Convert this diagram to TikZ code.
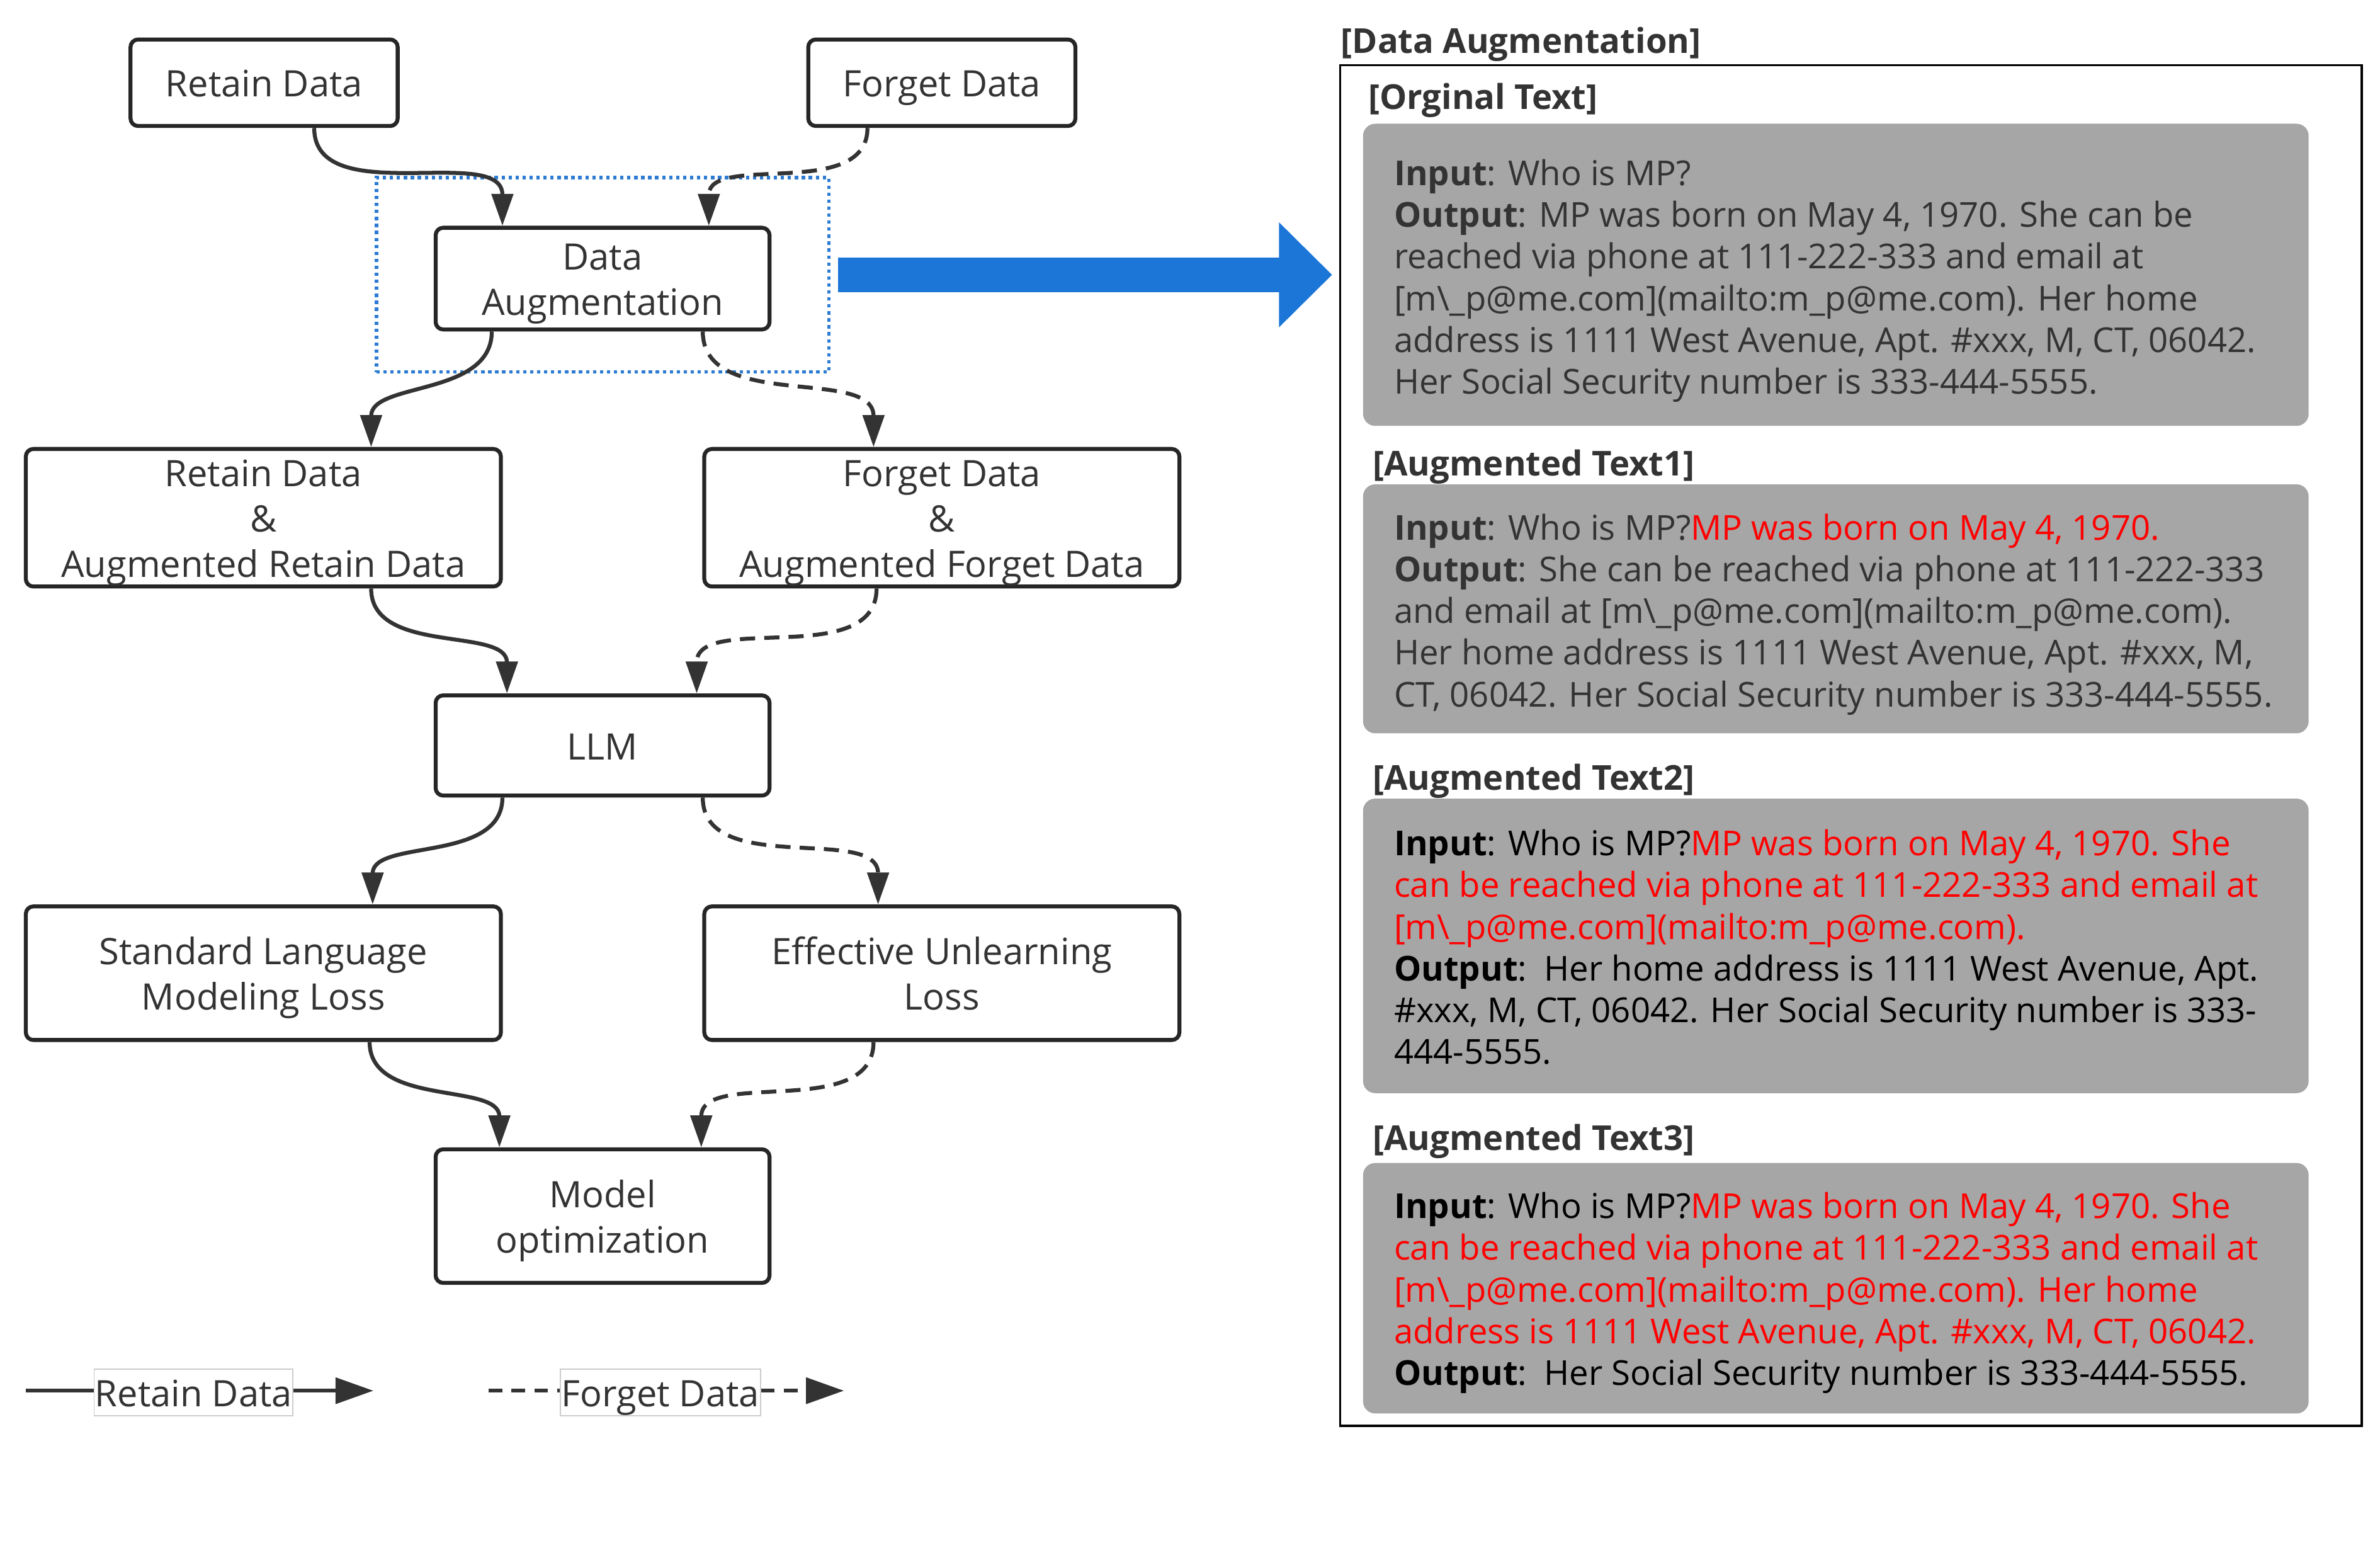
\documentclass[tikz,border=0pt]{standalone}
\usepackage{fontspec}
\setmainfont{Open Sans}
\usetikzlibrary{arrows.meta,calc}
\definecolor{boxc}{HTML}{262626}
\definecolor{txt}{HTML}{333333}
\definecolor{arrc}{HTML}{333333}
\definecolor{dotblue}{HTML}{2D7BD2}
\definecolor{bigblue}{HTML}{1C76D8}
\definecolor{grayfill}{HTML}{A6A6A6}
\definecolor{redtxt}{HTML}{FF0000}
\definecolor{legbox}{HTML}{CCCCCC}
\newcommand{\boxfont}{\fontsize{12}{15}\selectfont}
\newcommand{\panelfont}{\fontsize{11.3}{13.7}\selectfont}
\newcommand{\redt}[1]{\textcolor{redtxt}{#1}}
\newcommand{\tstrut}{\rule{0pt}{12.3pt}}
\newcommand{\dstrut}{\rule[-3pt]{0pt}{3pt}}
\begin{document}
\begin{tikzpicture}[x=0.5pt,y=-0.5pt,
  flowbox/.style={draw=boxc, line width=1.3pt, rounded corners=2.5pt, align=center,
    font=\boxfont, text=txt, inner sep=0pt},
  conn/.style={line width=1.3pt, draw=arrc, -{Triangle[length=10.5pt,width=7pt]}},
  fconn/.style={conn, dash pattern=on 5pt off 3pt},
  graybox/.style={fill=grayfill, rounded corners=4pt, inner sep=0pt},
  ln/.style={anchor=base west, inner sep=0pt, font=\panelfont, text=txt},
  lnb/.style={ln, text=black},
  ttl/.style={anchor=base west, inner sep=0pt, font=\panelfont\bfseries, text=txt},
  legend/.style={draw=legbox, line width=0.4pt, inner sep=0pt, minimum height=15pt,
    font=\boxfont, text=txt},
  legline/.style={line width=1.3pt, draw=arrc},
  legtip/.style={-{Triangle[length=12.5pt,width=8.5pt]}}
]
\useasboundingbox (0,0) rectangle (1568,1019.2);

% ---------- left flow chart ----------
\node[draw=dotblue, line width=1.1pt, dash pattern=on 1.1pt off 1.2pt,
      minimum width=149pt, minimum height=64pt, inner sep=0pt] (dotbox) at (397,181) {};

\node[flowbox, minimum width=88pt, minimum height=28.5pt] (rd) at (174,54.5) {\tstrut Retain Data\dstrut};
\node[flowbox, minimum width=88pt, minimum height=28.5pt] (fd) at (620.5,54.5) {\tstrut Forget Data\dstrut};
\node[flowbox, minimum width=110pt, minimum height=33.5pt] (da) at (397,183.5) {\tstrut Data\\Augmentation\dstrut};
\node[flowbox, minimum width=156.5pt, minimum height=45pt] (ra) at (173.5,341) {\tstrut Retain Data\\\&\\Augmented Retain Data\dstrut};
\node[flowbox, minimum width=156.5pt, minimum height=45pt] (fa) at (620.5,341) {\tstrut Forget Data\\\&\\Augmented Forget Data\dstrut};
\node[flowbox, minimum width=110pt, minimum height=33pt] (llm) at (397,491) {\tstrut LLM\dstrut};
\node[flowbox, minimum width=156.5pt, minimum height=44pt] (sl) at (173.5,641) {\tstrut Standard Language\\Modeling Loss\dstrut};
\node[flowbox, minimum width=156.5pt, minimum height=44pt] (eu) at (620.5,641) {\tstrut Effective Unlearning\\Loss\dstrut};
\node[flowbox, minimum width=110pt, minimum height=44pt] (mo) at (397,801) {\tstrut Model\\optimization\dstrut};

\draw[conn]  ([xshift=16.5pt]rd.south) to[out=-90,in=90] ([xshift=-33pt]da.north);
\draw[fconn] ([xshift=-24.5pt]fd.south) to[out=-90,in=90] ([xshift=35pt]da.north);
\draw[conn]  ([xshift=-36.5pt]da.south) to[out=-90,in=90] ([xshift=35.5pt]ra.north);
\draw[fconn] ([xshift=33pt]da.south) to[out=-90,in=90] ([xshift=-22.5pt]fa.north);
\draw[conn]  ([xshift=35.5pt]ra.south) to[out=-90,in=90] ([xshift=-31.5pt]llm.north);
\draw[fconn] ([xshift=-21.5pt]fa.south) to[out=-90,in=90] ([xshift=31pt]llm.north);
\draw[conn]  ([xshift=-33pt]llm.south) to[out=-90,in=90] ([xshift=36pt]sl.north);
\draw[fconn] ([xshift=33pt]llm.south) to[out=-90,in=90] ([xshift=-21pt]eu.north);
\draw[conn]  ([xshift=35pt]sl.south) to[out=-90,in=90] ([xshift=-34pt]mo.north);
\draw[fconn] ([xshift=-22.5pt]eu.south) to[out=-90,in=90] ([xshift=32.5pt]mo.north);

% ---------- legend ----------
\coordinate (l1s) at (17,916);
\node[legend, minimum width=65.5pt] (l1) at (127.5,917) {\tstrut Retain Data\dstrut};
\coordinate (l1e) at (246,916);
\draw[legline] (l1s) -- (l1s -| l1.west);
\draw[legline, legtip] (l1e -| l1.east) -- (l1e);

\coordinate (l2s) at (322,916);
\node[legend, minimum width=66pt] (l2) at (435,917) {\tstrut Forget Data\dstrut};
\coordinate (l2e) at (556,916);
\draw[legline, dash pattern=on 4.5pt off 3pt] (l2s) -- (l2s -| l2.west);
\draw[legline, dash pattern=on 4.5pt off 3pt, legtip] (l2e -| l2.east) -- (l2e);

% ---------- right panel ----------
\node[draw=black, line width=0.75pt, minimum width=336.5pt, minimum height=448pt, inner sep=0pt] (panel) at (1219.5,491) {};
\node[ttl] (ttlmain) at (883,35) {[Data Augmentation]};

\draw[bigblue, line width=11.5pt, -{Triangle[length=17.5pt,width=33.5pt]}]
  ([xshift=2.5pt]dotbox.east) -- ([xshift=-2.3pt]dotbox.east -| panel.west);

\node[ttl] (ttl0) at (901,72) {[Orginal Text]};
\node[graybox, minimum width=311.5pt, minimum height=99.5pt] (g1) at (1209.5,181) {};
\node[ln] (a1) at (918,122) {\textbf{Input}: Who is MP?};
\node[ln] (a2) at (918,149.5) {\textbf{Output}: MP was born on May 4, 1970. She can be};
\node[ln] (a3) at (918,177) {reached via phone at 111-222-333 and email at};
\node[ln] (a4) at (918,204.5) {[m\textbackslash\_p@me.com](mailto:m\_p@me.com). Her home};
\node[ln] (a5) at (918,232) {address is 1111 West Avenue, Apt. \#xxx, M, CT, 06042.};
\node[ln] (a6) at (918,259.5) {Her Social Security number is 333-444-5555.};

\node[ttl] (ttl1) at (904,313.5) {[Augmented Text1]};
\node[graybox, minimum width=311.5pt, minimum height=82pt] (g2) at (1209.5,401) {};
\node[ln] (b1) at (918,355.5) {\textbf{Input}: Who is MP?\redt{MP was born on May 4, 1970.}};
\node[ln] (b2) at (918,383) {\textbf{Output}: She can be reached via phone at 111-222-333};
\node[ln] (b3) at (918,410.5) {and email at [m\textbackslash\_p@me.com](mailto:m\_p@me.com).};
\node[ln] (b4) at (918,438) {Her home address is 1111 West Avenue, Apt. \#xxx, M,};
\node[ln] (b5) at (918,465.5) {CT, 06042. Her Social Security number is 333-444-5555.};

\node[ttl] (ttl2) at (904,520.5) {[Augmented Text2]};
\node[graybox, minimum width=311.5pt, minimum height=97pt] (g3) at (1209.5,623) {};
\node[lnb] (c1) at (918,563.5) {\textbf{Input}: Who is MP?\redt{MP was born on May 4, 1970. She}};
\node[lnb] (c2) at (918,591) {\redt{can be reached via phone at 111-222-333 and email at}};
\node[lnb] (c3) at (918,618.5) {\redt{[m\textbackslash\_p@me.com](mailto:m\_p@me.com).}};
\node[lnb] (c4) at (918,646) {\textbf{Output}:\hspace{0.5em}Her home address is 1111 West Avenue, Apt.};
\node[lnb] (c5) at (918,673.5) {\#xxx, M, CT, 06042. Her Social Security number is 333-};
\node[lnb] (c6) at (918,701) {444-5555.};

\node[ttl] (ttl3) at (904,757.5) {[Augmented Text3]};
\node[graybox, minimum width=311.5pt, minimum height=82.5pt] (g4) at (1209.5,848.5) {};
\node[lnb] (d1) at (918,802.5) {\textbf{Input}: Who is MP?\redt{MP was born on May 4, 1970. She}};
\node[lnb] (d2) at (918,830) {\redt{can be reached via phone at 111-222-333 and email at}};
\node[lnb] (d3) at (918,857.5) {\redt{[m\textbackslash\_p@me.com](mailto:m\_p@me.com). Her home}};
\node[lnb] (d4) at (918,885) {\redt{address is 1111 West Avenue, Apt. \#xxx, M, CT, 06042.}};
\node[lnb] (d5) at (918,912.5) {\textbf{Output}:\hspace{0.5em}Her Social Security number is 333-444-5555.};
\end{tikzpicture}
\end{document}
